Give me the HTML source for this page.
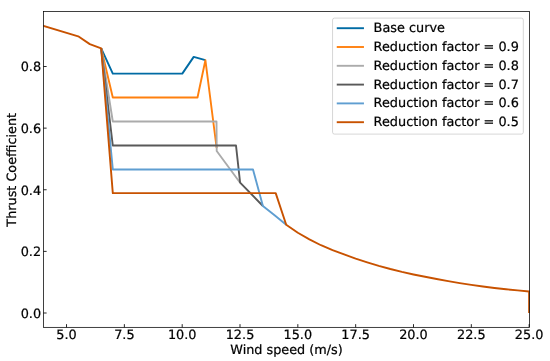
<!DOCTYPE html>
<html lang="en"><head><meta charset="utf-8"><title>Thrust coefficient curves</title>
<style>
html,body{margin:0;padding:0;background:#fff;}
body{width:550px;height:361px;overflow:hidden;}
svg{display:block;}
text{font-family:"DejaVu Sans","Liberation Sans",sans-serif;font-size:12.85px;fill:#000;text-rendering:geometricPrecision;stroke:#000;stroke-width:0.22px;}
text.tk{font-size:12.85px;}
text.lb{font-size:12.8px;}
</style></head><body>
<svg width="550" height="361" viewBox="0 0 550 361">
<rect x="0" y="0" width="550" height="361" fill="#ffffff"/>
<defs><clipPath id="ax"><rect x="43.43" y="11.6" width="486.17" height="315.75"/></clipPath></defs>

<g clip-path="url(#ax)" fill="none" stroke-width="1.9" stroke-linejoin="round" stroke-linecap="butt">
<polyline points="101.20,48.30 112.80,73.60 182.30,73.60 193.70,56.90 205.40,60.20" stroke="#006BA4"/>
<polyline points="101.20,48.30 112.80,97.50 197.50,97.50 205.40,60.20 216.64,148.00" stroke="#FF800E"/>
<polyline points="101.20,48.30 112.80,121.50 216.50,121.50 216.70,151.00 240.10,182.70" stroke="#ABABAB"/>
<polyline points="101.20,48.30 112.80,145.50 236.00,145.50 240.10,182.70 262.90,206.00" stroke="#595959"/>
<polyline points="101.20,48.30 112.80,169.45 253.00,169.45 262.90,206.00 274.90,215.50 286.20,224.80" stroke="#5F9ED1"/>
<polyline points="42.50,25.50 78.20,36.30 89.80,44.10 101.20,48.30 112.80,193.10 275.70,193.10 286.20,224.80 297.84,232.74 309.41,239.36 320.97,245.24 332.54,250.14 344.10,254.46 355.67,258.62 367.23,262.31 378.80,265.80 390.37,268.97 401.93,271.86 413.50,274.45 425.06,276.79 436.63,278.95 448.19,281.11 459.76,283.11 471.32,284.90 482.89,286.53 494.45,287.95 506.02,289.24 517.59,290.38 529.10,291.46 529.10,313.10" stroke="#C85200"/>
</g>
<g stroke="#000" stroke-width="0.85" fill="none">
<line x1="66.53" y1="327.35" x2="66.53" y2="324.15"/>
<line x1="124.36" y1="327.35" x2="124.36" y2="324.15"/>
<line x1="182.19" y1="327.35" x2="182.19" y2="324.15"/>
<line x1="240.01" y1="327.35" x2="240.01" y2="324.15"/>
<line x1="297.84" y1="327.35" x2="297.84" y2="324.15"/>
<line x1="355.67" y1="327.35" x2="355.67" y2="324.15"/>
<line x1="413.50" y1="327.35" x2="413.50" y2="324.15"/>
<line x1="471.32" y1="327.35" x2="471.32" y2="324.15"/>
<line x1="529.15" y1="327.35" x2="529.15" y2="324.15"/>
<line x1="43.43" y1="313.00" x2="46.63" y2="313.00"/>
<line x1="43.43" y1="251.38" x2="46.63" y2="251.38"/>
<line x1="43.43" y1="189.76" x2="46.63" y2="189.76"/>
<line x1="43.43" y1="128.14" x2="46.63" y2="128.14"/>
<line x1="43.43" y1="66.52" x2="46.63" y2="66.52"/>
</g>
<rect x="43.43" y="11.6" width="486.17" height="315.75" fill="none" stroke="#000" stroke-width="0.75"/>
<text class="tk" x="66.53" y="339.4" text-anchor="middle">5.0</text>
<text class="tk" x="124.36" y="339.4" text-anchor="middle">7.5</text>
<text class="tk" x="182.19" y="339.4" text-anchor="middle">10.0</text>
<text class="tk" x="240.01" y="339.4" text-anchor="middle">12.5</text>
<text class="tk" x="297.84" y="339.4" text-anchor="middle">15.0</text>
<text class="tk" x="355.67" y="339.4" text-anchor="middle">17.5</text>
<text class="tk" x="413.50" y="339.4" text-anchor="middle">20.0</text>
<text class="tk" x="471.32" y="339.4" text-anchor="middle">22.5</text>
<text class="tk" x="529.15" y="339.4" text-anchor="middle">25.0</text>
<text class="tk" x="41.1" y="317.80" text-anchor="end">0.0</text>
<text class="tk" x="41.1" y="256.18" text-anchor="end">0.2</text>
<text class="tk" x="41.1" y="194.56" text-anchor="end">0.4</text>
<text class="tk" x="41.1" y="132.94" text-anchor="end">0.6</text>
<text class="tk" x="41.1" y="71.32" text-anchor="end">0.8</text>
<text class="lb" x="286.5" y="353.6" text-anchor="middle">Wind speed (m/s)</text>
<text class="lb" transform="translate(16.0,169.8) rotate(-90)" text-anchor="middle">Thrust Coefficient</text>
<rect x="332.55" y="18.1" width="190.75" height="116.00" rx="1.9" ry="1.9" fill="#ffffff" fill-opacity="0.8" stroke="#cccccc" stroke-opacity="0.8" stroke-width="1"/>
<line x1="337.7" y1="28.20" x2="363.0" y2="28.20" stroke="#006BA4" stroke-width="1.9" stroke-linecap="square"/>
<text x="373.6" y="32.40">Base curve</text>
<line x1="337.7" y1="47.00" x2="363.0" y2="47.00" stroke="#FF800E" stroke-width="1.9" stroke-linecap="square"/>
<text x="373.6" y="51.16">Reduction factor = 0.9</text>
<line x1="337.7" y1="65.80" x2="363.0" y2="65.80" stroke="#ABABAB" stroke-width="1.9" stroke-linecap="square"/>
<text x="373.6" y="69.92">Reduction factor = 0.8</text>
<line x1="337.7" y1="84.60" x2="363.0" y2="84.60" stroke="#595959" stroke-width="1.9" stroke-linecap="square"/>
<text x="373.6" y="88.68">Reduction factor = 0.7</text>
<line x1="337.7" y1="103.40" x2="363.0" y2="103.40" stroke="#5F9ED1" stroke-width="1.9" stroke-linecap="square"/>
<text x="373.6" y="107.44">Reduction factor = 0.6</text>
<line x1="337.7" y1="122.20" x2="363.0" y2="122.20" stroke="#C85200" stroke-width="1.9" stroke-linecap="square"/>
<text x="373.6" y="126.20">Reduction factor = 0.5</text>
</svg>
</body></html>
